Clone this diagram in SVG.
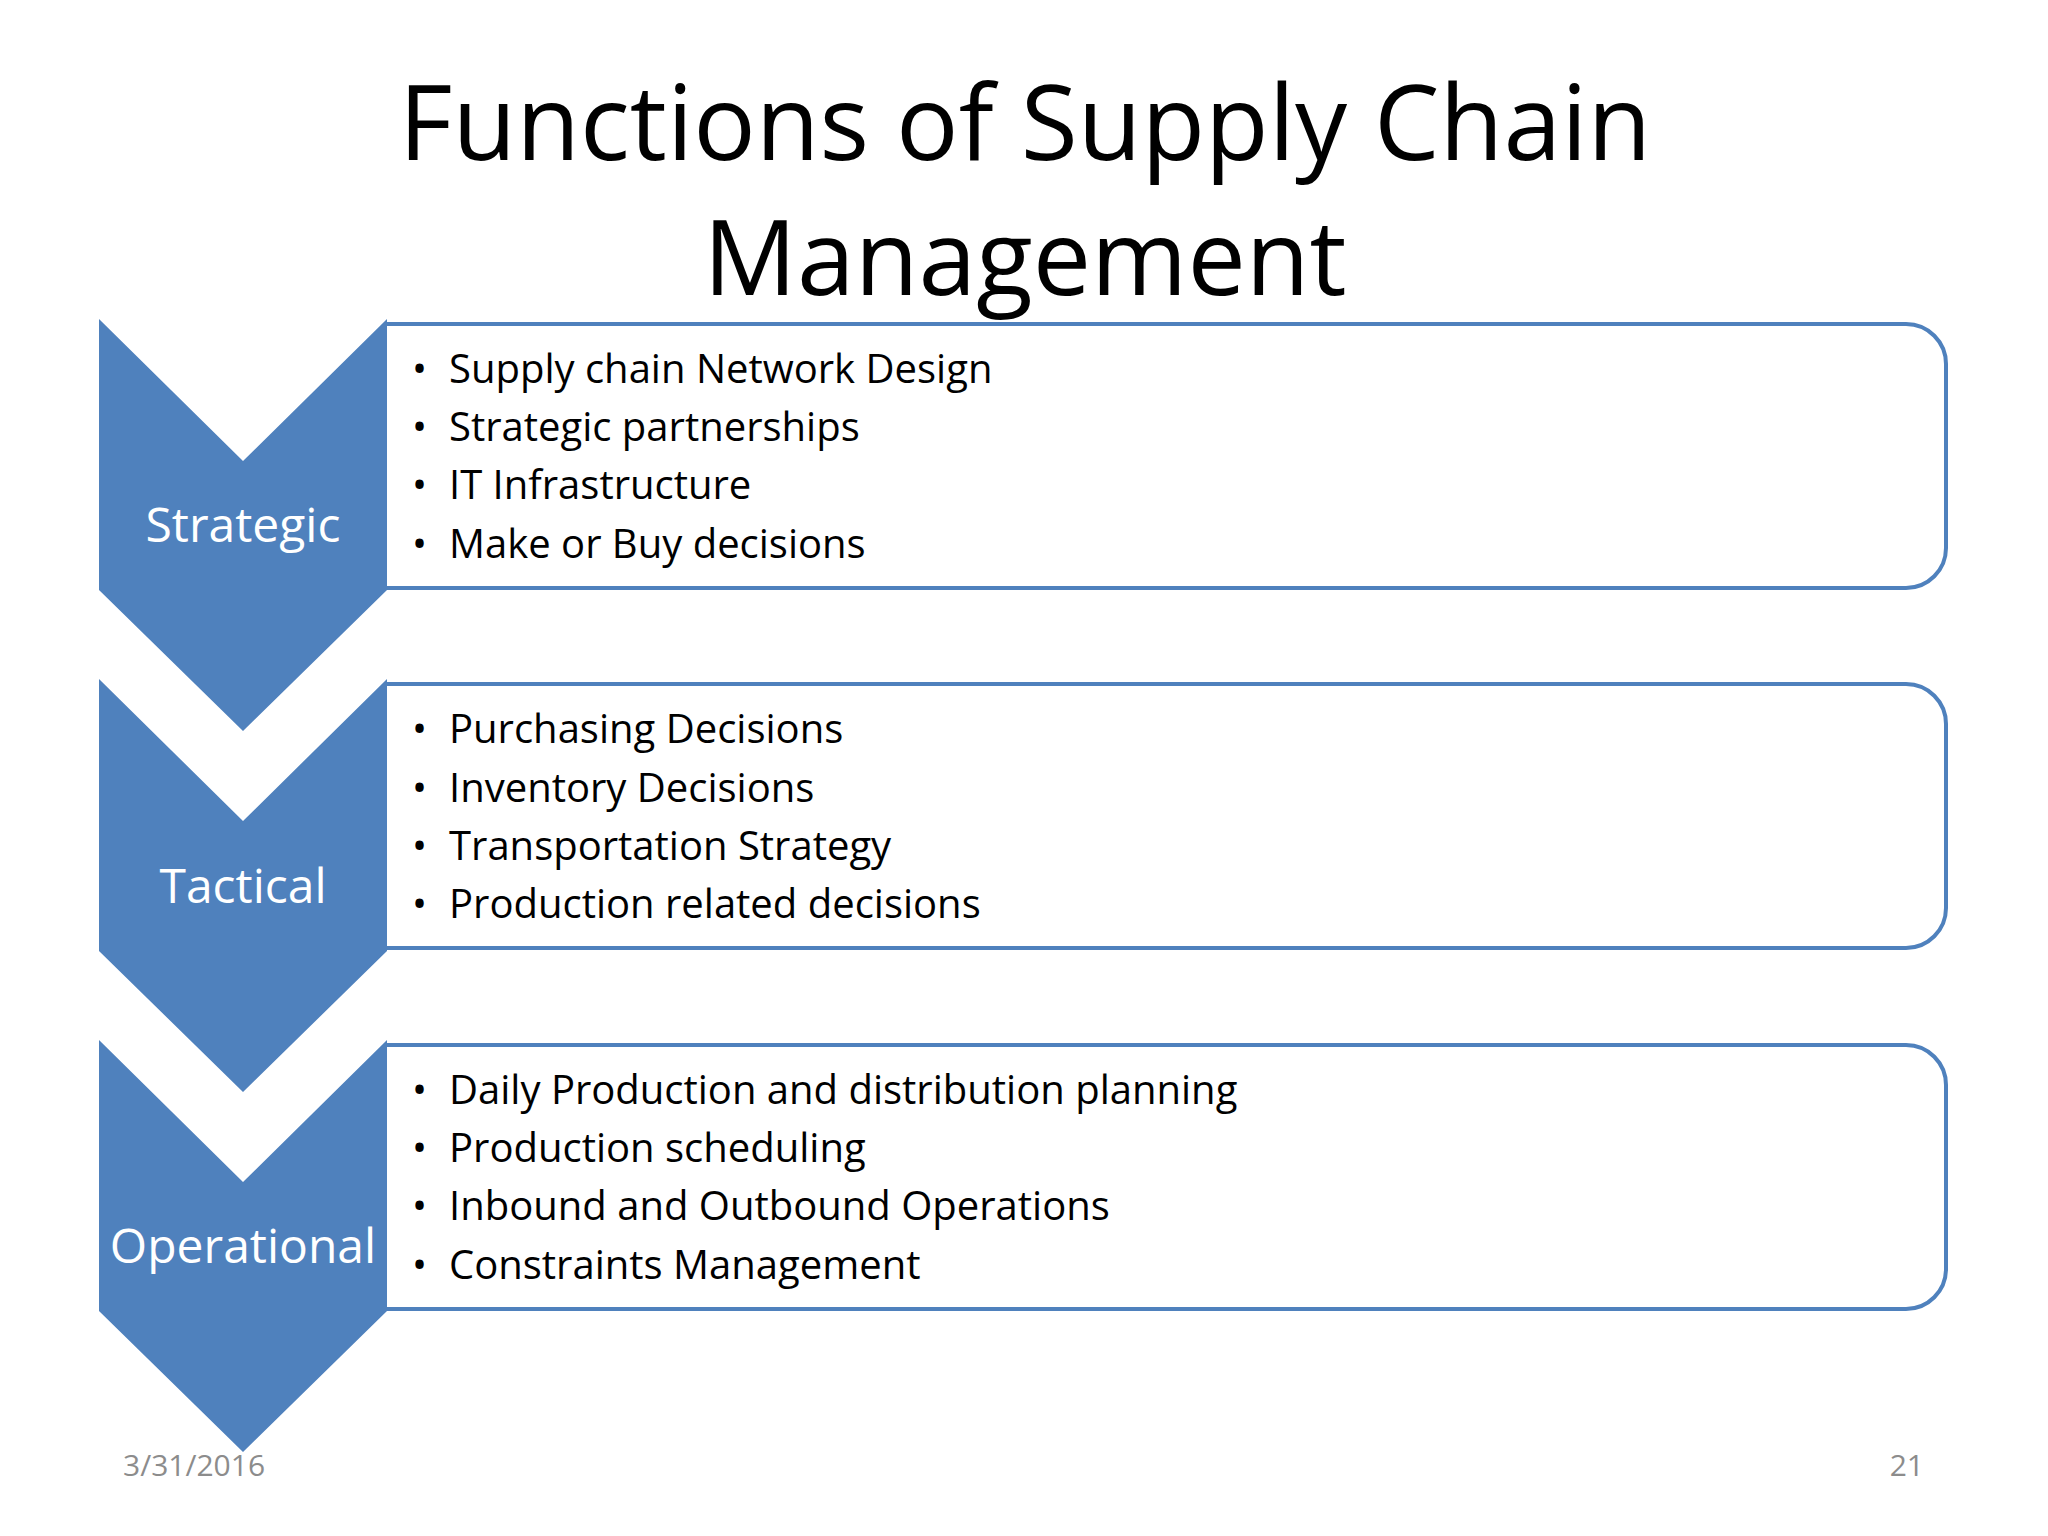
<svg xmlns="http://www.w3.org/2000/svg" width="2048" height="1536" viewBox="0 0 2048 1536">
<style>
.chev{fill:#4F81BD}
.box{fill:#fff;stroke:#4F81BD;stroke-width:4}
.t{font-family:"Open Sans","Liberation Sans",sans-serif;fill:#000}
.b{font-family:"Open Sans","Liberation Sans",sans-serif;font-size:40px;fill:#000}
.lab{font-family:"Open Sans","Liberation Sans",sans-serif;font-size:48px;fill:#fff;text-anchor:middle}
.f{font-family:"Open Sans","Liberation Sans",sans-serif;font-size:30px;fill:#8c8c8c}
</style>
<rect width="2048" height="1536" fill="#fff"/>
<text class="t" x="1025" y="160" font-size="104" text-anchor="middle">Functions of Supply Chain</text>
<text class="t" x="1025" y="295" font-size="104" text-anchor="middle">Management</text>
<g id="strategic">
<path class="box" d="M387 324 H1906 A40 40 0 0 1 1946 364 V548 A40 40 0 0 1 1906 588 H387"/>
<path class="chev" d="M99 319 L243 461 L387 319 V590 L243 731 L99 590 Z"/>
<text class="lab" x="243" y="542">Strategic</text>
<g class="b"><text x="412" y="383">•</text><text x="449" y="383">Supply chain Network Design</text>
<text x="412" y="441">•</text><text x="449" y="441">Strategic partnerships</text>
<text x="412" y="499">•</text><text x="449" y="499">IT Infrastructure</text>
<text x="412" y="558">•</text><text x="449" y="558">Make or Buy decisions</text></g>
</g>
<g id="tactical">
<path class="box" d="M387 684 H1906 A40 40 0 0 1 1946 724 V908 A40 40 0 0 1 1906 948 H387"/>
<path class="chev" d="M99 679 L243 821 L387 679 V951 L243 1092 L99 951 Z"/>
<text class="lab" x="243" y="903">Tactical</text>
<g class="b"><text x="412" y="743">•</text><text x="449" y="743">Purchasing Decisions</text>
<text x="412" y="802">•</text><text x="449" y="802">Inventory Decisions</text>
<text x="412" y="860">•</text><text x="449" y="860">Transportation Strategy</text>
<text x="412" y="918">•</text><text x="449" y="918">Production related decisions</text></g>
</g>
<g id="operational">
<path class="box" d="M387 1045 H1906 A40 40 0 0 1 1946 1085 V1269 A40 40 0 0 1 1906 1309 H387"/>
<path class="chev" d="M99 1040 L243 1182 L387 1040 V1311 L243 1452 L99 1311 Z"/>
<text class="lab" x="243" y="1263">Operational</text>
<g class="b"><text x="412" y="1104">•</text><text x="449" y="1104">Daily Production and distribution planning</text>
<text x="412" y="1162">•</text><text x="449" y="1162">Production scheduling</text>
<text x="412" y="1220">•</text><text x="449" y="1220">Inbound and Outbound Operations</text>
<text x="412" y="1279">•</text><text x="449" y="1279">Constraints Management</text></g>
</g>
<g id="connectors"/>
<text class="f" x="123" y="1476">3/31/2016</text>
<text class="f" x="1924" y="1476" text-anchor="end">21</text>
</svg>
